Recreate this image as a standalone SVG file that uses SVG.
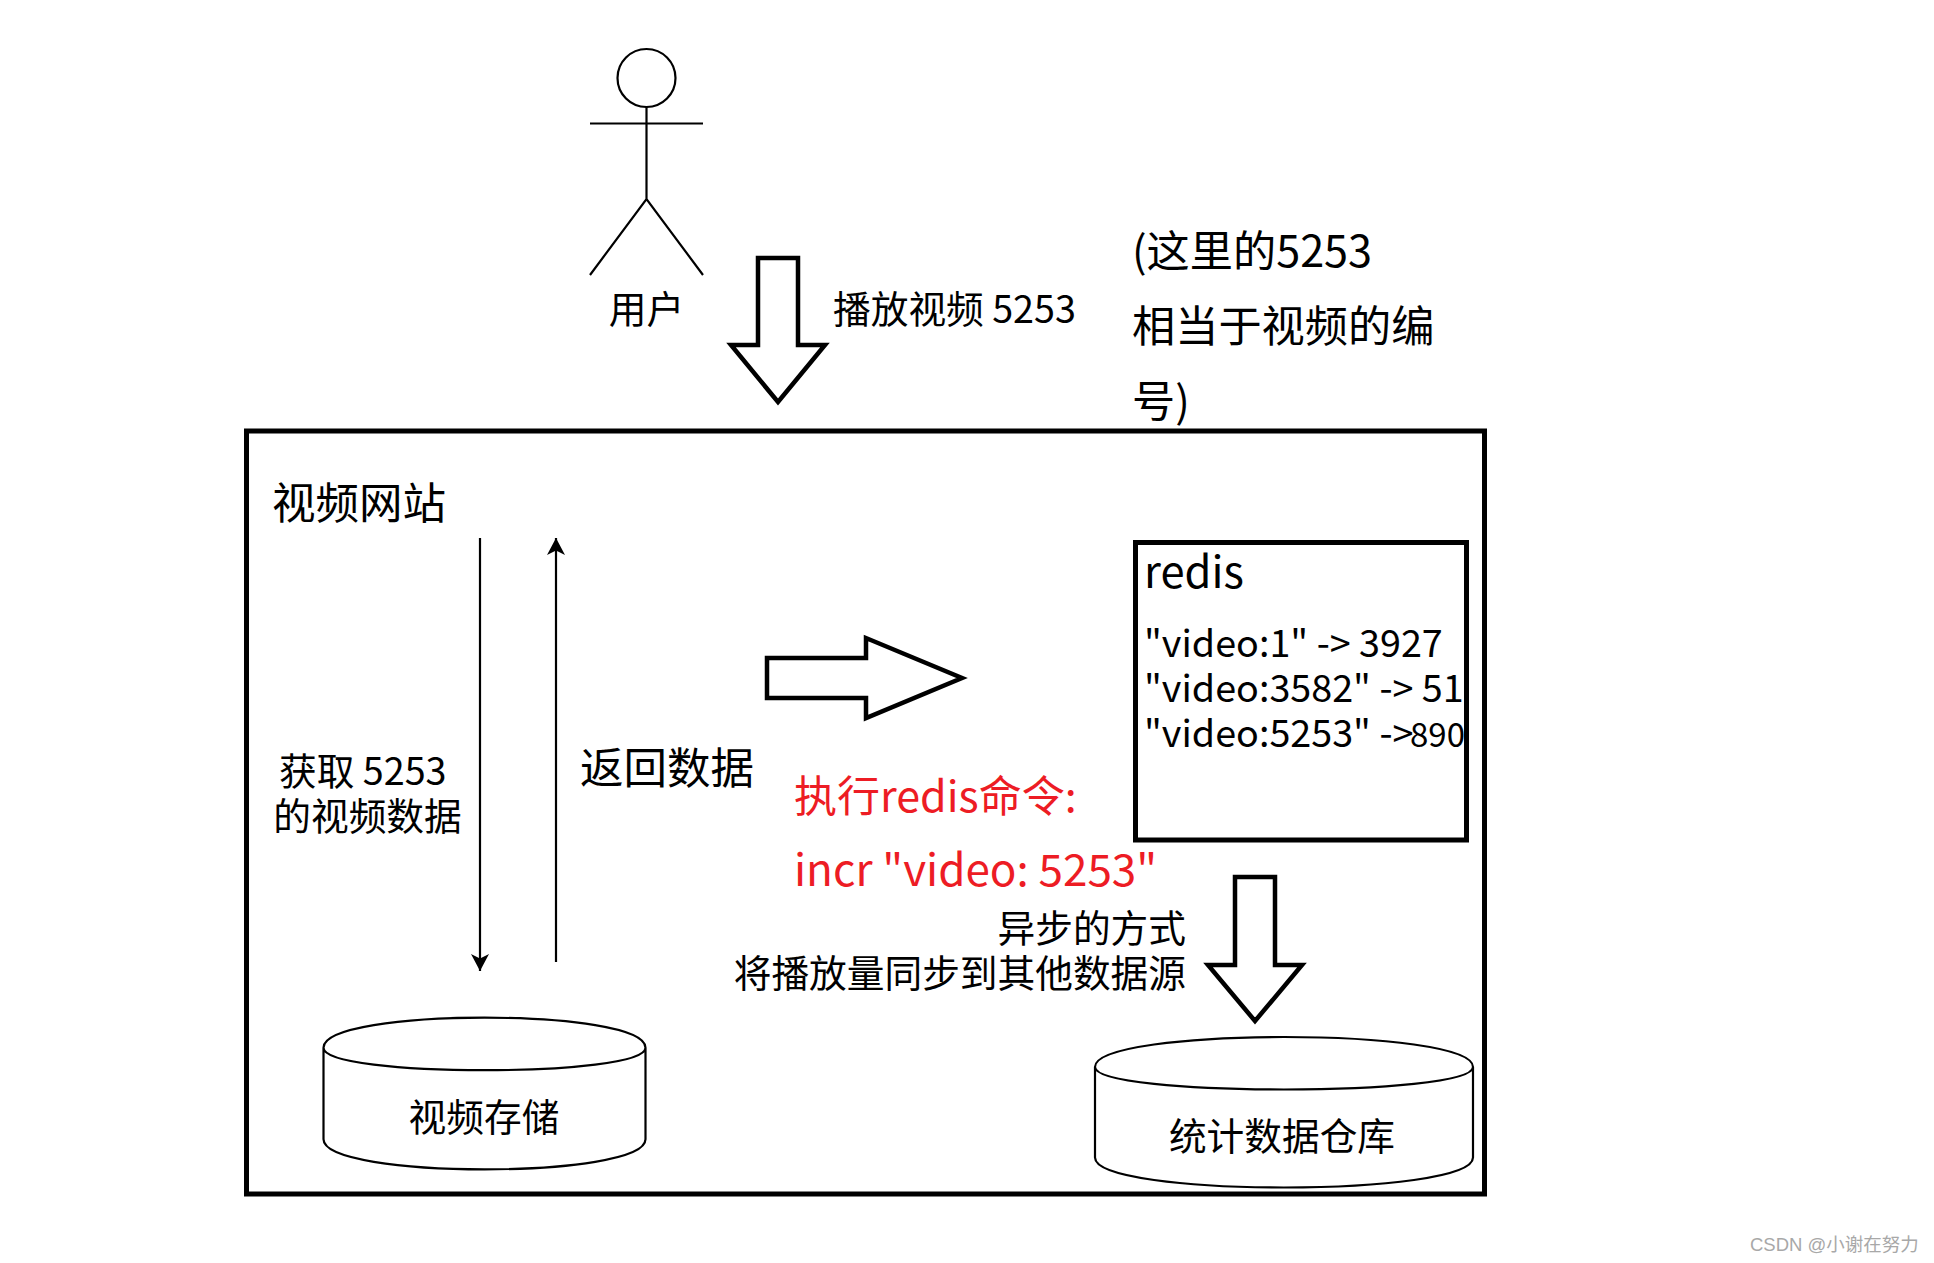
<svg xmlns="http://www.w3.org/2000/svg" width="1934" height="1263" viewBox="0 0 1934 1263">
<style>
text{font-family:"Noto Sans CJK SC","Noto Sans",sans-serif;fill:#000}
.s36{font-size:37.700px}.s43{font-size:43.500px}.s40{font-size:37.700px}.note{font-size:43.200px}
.red{fill:#ed1c24;font-size:43px}
.thin{fill:#fff;stroke:#000;stroke-width:2.200}
.box{fill:none;stroke:#000;stroke-width:5}
.block{fill:#fff;stroke:#000;stroke-width:4.500;stroke-linejoin:miter}
.line{fill:none;stroke:#000;stroke-width:2.200}
.wm{font-family:"Liberation Sans","Noto Sans CJK SC",sans-serif;font-size:18.500px;fill:#a8a8a8}
</style>
<defs>
<marker id="arrow" markerUnits="userSpaceOnUse" markerWidth="20" markerHeight="20" refX="17" refY="9" orient="auto">
<path d="M0 0L17 9L0 18L4.500 9Z" fill="#000"/>
</marker>
</defs>
<rect width="1934" height="1263" fill="#fff"/>
<g id="site"><rect class="box" x="246.500" y="431" width="1238" height="763"/><text class="s43" x="272" y="519">视频网站</text></g>
<g id="user">
<circle class="line" cx="646.500" cy="78" r="29"/>
<path class="line" d="M646.500 107V199M590 123.500H703M590 275L646.500 199L703 275"/>
<text class="s36" x="646.500" y="323" text-anchor="middle">用户</text>
</g>
<g id="play-label"><text class="s36" x="833" y="323">播放视频 5253</text></g>
<g id="note">
<text class="note" x="1132" y="267">(这里的5253</text>
<text class="note" x="1132" y="342">相当于视频的编</text>
<text class="note" x="1132" y="417">号)</text>
</g>
<g id="redis">
<rect class="box" x="1135.500" y="542.500" width="331" height="297.500"/>
<text class="s43" x="1144" y="588">redis</text>
<text class="s40" x="1144" y="657">"video:1" -&gt; 3927</text>
<text class="s40" x="1144" y="702">"video:3582" -&gt; 51</text>
<text class="s40" x="1144" y="747">"video:5253" -&gt;<tspan x="1410" font-size="33">890</tspan></text>
</g>
<g id="video-storage">
<path class="thin" d="M323.500 1047.700C323.500 1007.700 645.500 1007.700 645.500 1047.700V1139.300C645.500 1179.300 323.500 1179.300 323.500 1139.300ZM323.500 1047.700C323.500 1077.700 645.500 1077.700 645.500 1047.700"/>
<text class="s36" x="484" y="1131" text-anchor="middle">视频存储</text>
</g>
<g id="stats-warehouse">
<path class="thin" d="M1095 1067C1095 1027 1473 1027 1473 1067V1157.500C1473 1197.500 1095 1197.500 1095 1157.500ZM1095 1067C1095 1097 1473 1097 1473 1067"/>
<text class="s36" x="1282" y="1150" text-anchor="middle">统计数据仓库</text>
</g>
<g id="labels">
<text class="s36" x="279" y="785">获取 5253</text>
<text class="s36" x="367.500" y="830" text-anchor="middle">的视频数据</text>
<text class="s43" x="580" y="784">返回数据</text>
<text class="red" x="794" y="812">执行redis命令:</text>
<text class="red" x="794" y="886" style="font-size:44px">incr "video: 5253"</text>
<text class="s36" x="1186" y="942" text-anchor="end">异步的方式</text>
<text class="s36" x="1186" y="987" text-anchor="end">将播放量同步到其他数据源</text>
<text class="wm" x="1750" y="1251">CSDN @小谢在努力</text>
</g>
<g id="connectors">
<path class="line" d="M480 538V971" marker-end="url(#arrow)"/>
<path class="line" d="M556 962V538" marker-end="url(#arrow)"/>
<path class="block" d="M758 258H798V345H825L778 402L731 345H758Z"/>
<path class="block" d="M767 658H866V638L962 678L866 718V698H767Z"/>
<path class="block" d="M1235 877H1275V965H1302L1255 1021L1208 965H1235Z"/>
</g>
</svg>
